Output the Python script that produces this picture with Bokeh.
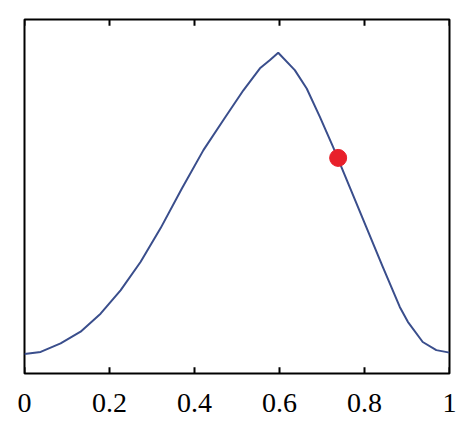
from bokeh.plotting import figure
from bokeh.models import Range1d, FixedTicker
from bokeh.embed import file_html
from bokeh.resources import INLINE

# data (y on an arbitrary 0..1 scale)
x_vals = [0.0, 0.038, 0.085, 0.132, 0.179, 0.226, 0.273, 0.32, 0.37,
          0.421, 0.468, 0.515, 0.554, 0.577, 0.597, 0.636, 0.664, 0.695,
          0.726, 0.765, 0.804, 0.843, 0.883, 0.902, 0.937, 0.969, 1.0]
y_vals = [0.055, 0.061, 0.085, 0.118, 0.169, 0.235, 0.315, 0.410, 0.522,
          0.631, 0.716, 0.800, 0.862, 0.885, 0.906, 0.857, 0.805, 0.725,
          0.640, 0.527, 0.414, 0.301, 0.188, 0.146, 0.089, 0.066, 0.059]
dot_x = [0.738]
dot_y = [0.609]
tick_values = [0, 0.2, 0.4, 0.6, 0.8, 1]
tick_labels = ["0", "0.2", "0.4", "0.6", "0.8", "1"]

y_lo, y_hi = 0, 1
tick_len = 0.018  # inward tick length, in y units (~6 px)

p = figure(width=474, height=440, output_backend="svg", toolbar_location=None,
           x_range=Range1d(0, 1), y_range=Range1d(y_lo, y_hi),
           y_axis_location=None,
           min_border_left=24, min_border_right=25, min_border_top=19,
           min_border_bottom=67)
p.grid.visible = False
p.outline_line_color = "black"
p.outline_line_width = 2
p.background_fill_color = "white"
p.border_fill_color = "white"

ax = p.xaxis[0]
ax.ticker = FixedTicker(ticks=tick_values)
ax.major_label_overrides = {v: l for v, l in zip(tick_values, tick_labels)}
ax.axis_line_color = None
ax.major_tick_line_color = None
ax.minor_tick_line_color = None
ax.major_label_standoff = 14
ax.major_label_text_font = "Liberation Serif"
ax.major_label_text_font_size = "28px"
ax.major_label_text_color = "black"

# inward ticks on bottom and top edges
n = len(tick_values)
p.segment(x0=tick_values, y0=[y_lo] * n, x1=tick_values, y1=[y_lo + tick_len] * n,
          line_color="black", line_width=2)
p.segment(x0=tick_values, y0=[y_hi] * n, x1=tick_values, y1=[y_hi - tick_len] * n,
          line_color="black", line_width=2)

p.line(x_vals, y_vals, line_color="#3a4e8c", line_width=2)
p.scatter(dot_x, dot_y, size=17, fill_color="#e8202a", line_color="#e8202a")

open("out.html", "w").write(file_html(p, INLINE))
